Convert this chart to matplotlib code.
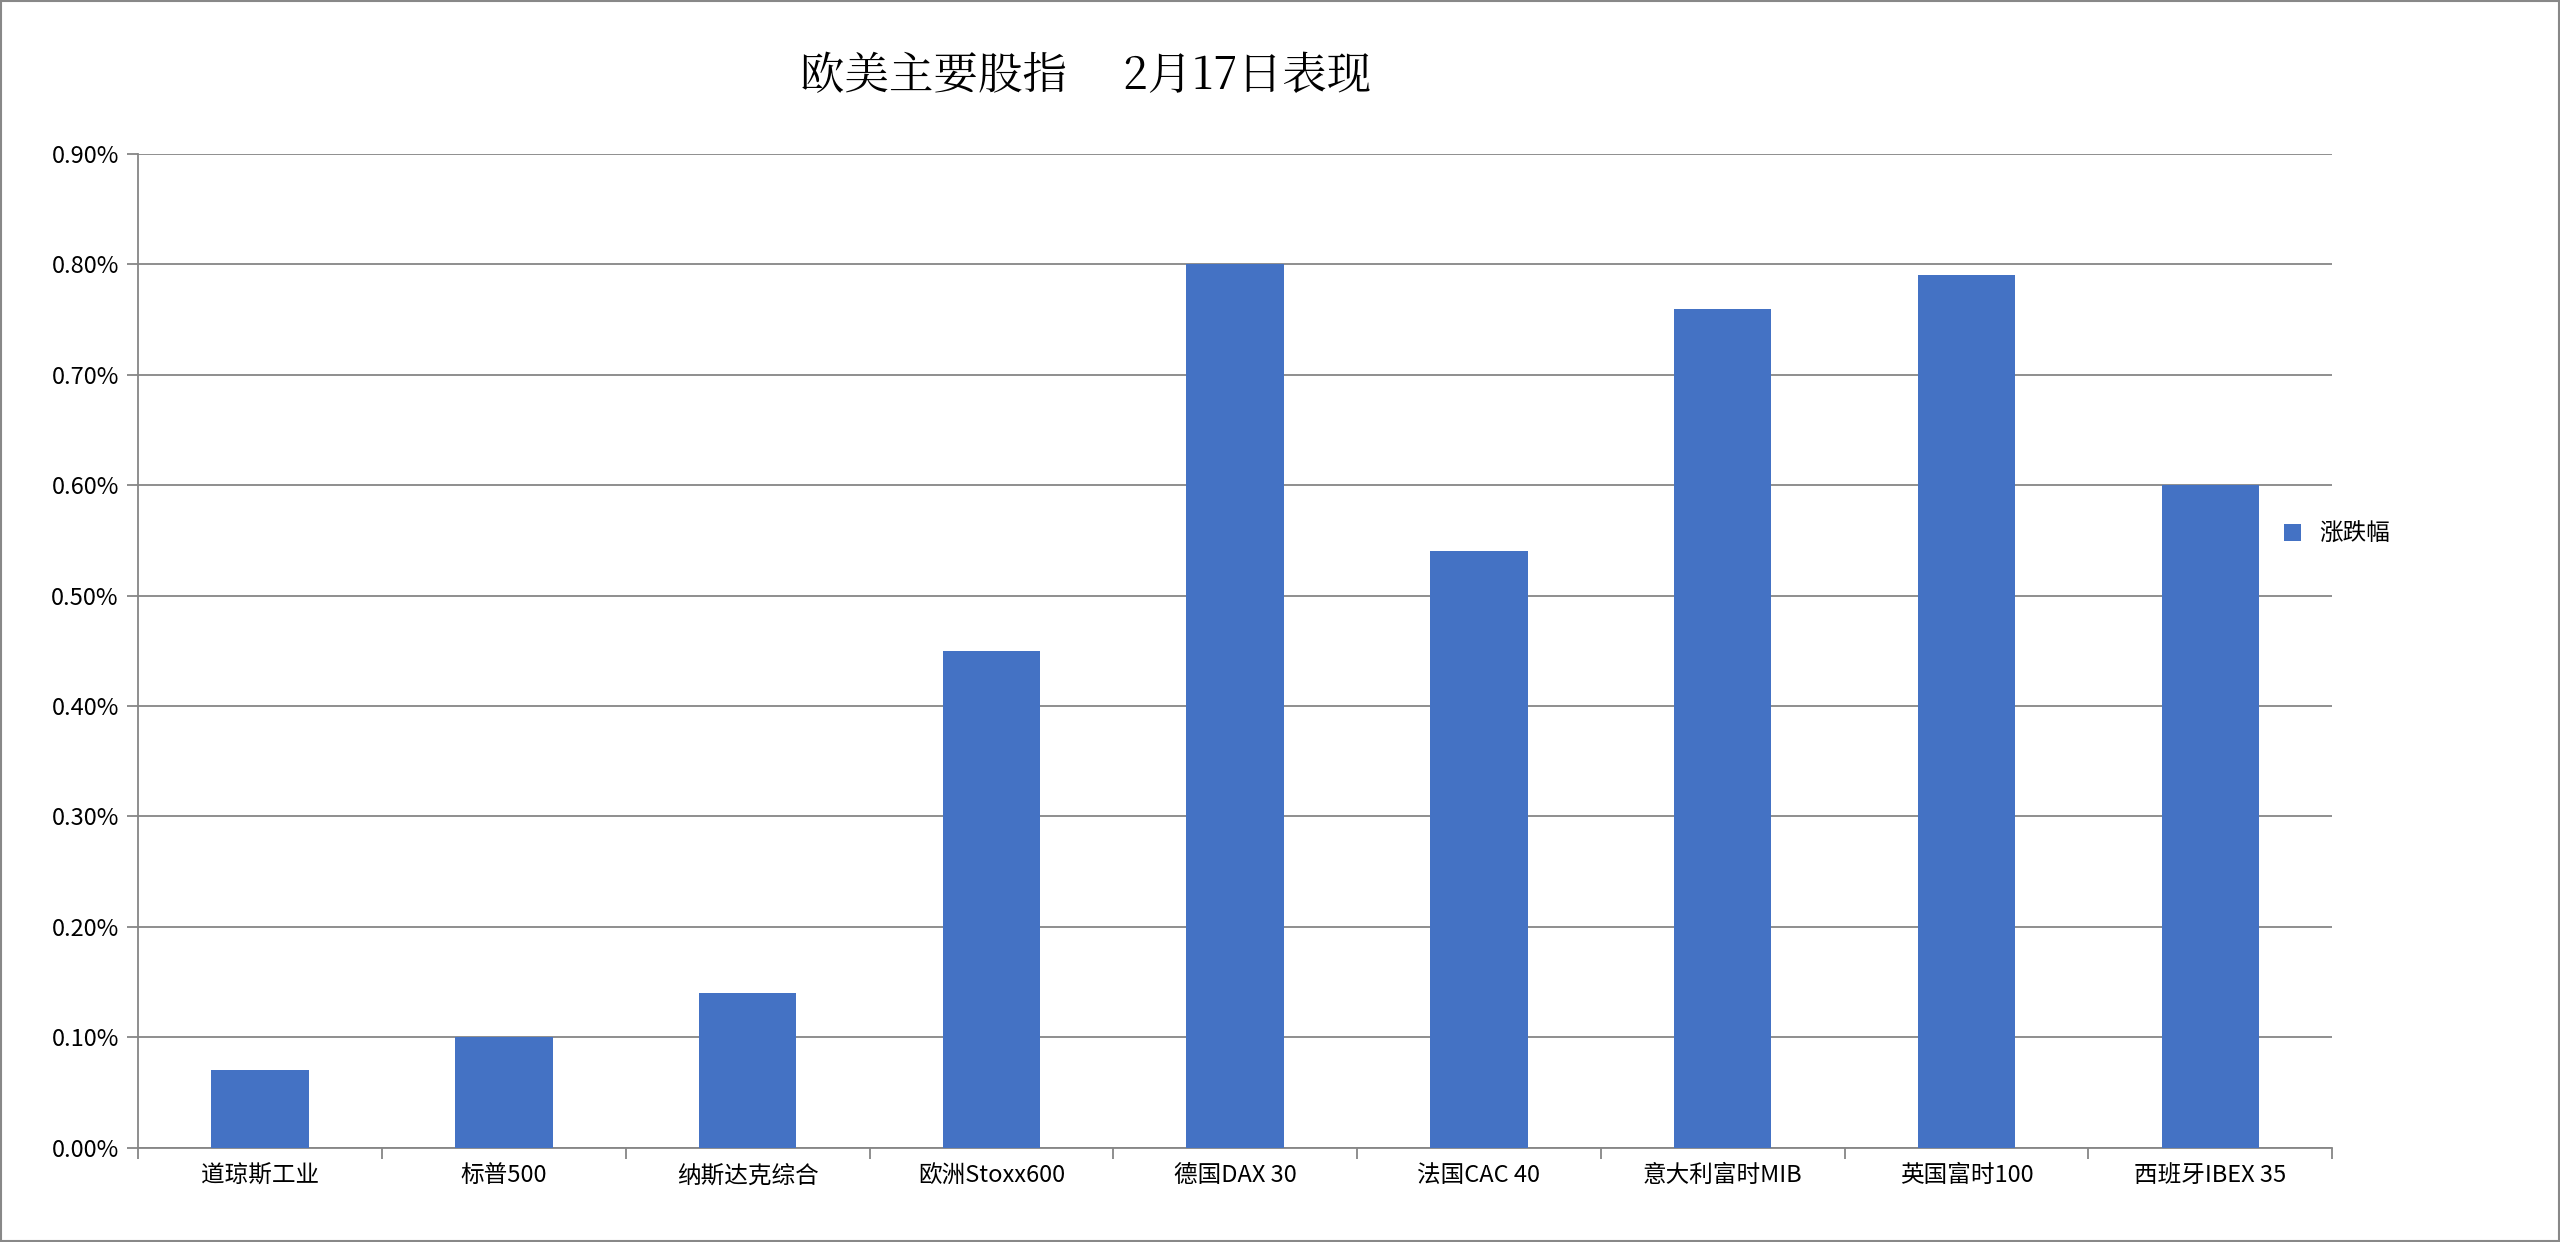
import matplotlib
matplotlib.use("Agg")
import matplotlib.pyplot as plt
from matplotlib.ticker import FixedLocator, NullFormatter
import numpy as np

plt.rcParams['font.family'] = ['Noto Sans CJK SC', 'DejaVu Sans']

categories = ["道琼斯工业", "标普500", "纳斯达克综合", "欧洲Stoxx600", "德国DAX 30",
              "法国CAC 40", "意大利富时MIB", "英国富时100", "西班牙IBEX 35"]
values = [0.07, 0.10, 0.14, 0.45, 0.80, 0.54, 0.76, 0.79, 0.60]
yticks = [0.0, 0.1, 0.2, 0.3, 0.4, 0.5, 0.6, 0.7, 0.8, 0.9]

fig = plt.figure(figsize=(25.6, 12.42), dpi=100)
fig.patches.append(plt.Rectangle((0.0005, 0.001), 0.999, 0.998, transform=fig.transFigure,
                                 fill=False, edgecolor='#888888', linewidth=1.5))
ax = fig.add_axes([0.054, 0.076, 0.857, 0.800])
x = np.arange(len(categories))
ax.bar(x, values, width=0.4, color='#4472C4', label='涨跌幅', zorder=3)
ax.set_xlim(-0.5, len(categories) - 0.5)
ax.set_ylim(0, 0.9)
ax.set_yticks(yticks)
ax.set_yticklabels([f"{v:.2f}%" for v in yticks], fontsize=17)
ax.grid(axis='y', color='#868686', linewidth=1.3, zorder=0)
ax.set_xticks(x)
ax.set_xticklabels(categories, fontsize=17)
ax.xaxis.set_minor_locator(FixedLocator(np.arange(-0.5, len(categories), 1.0)))
ax.xaxis.set_minor_formatter(NullFormatter())
ax.tick_params(axis='x', which='major', length=0, pad=12)
ax.tick_params(axis='x', which='minor', length=8, color='#868686', width=1.3)
ax.tick_params(axis='y', length=8, color='#868686', width=1.3, pad=6)
for s in ['top', 'right']:
    ax.spines[s].set_visible(False)
ax.spines['left'].set_color('#868686')
ax.spines['bottom'].set_color('#868686')
ax.spines['left'].set_linewidth(1.3)
ax.spines['bottom'].set_linewidth(1.3)
fig.text(0.424, 0.938, "欧美主要股指\u3000 2月17日表现", fontsize=32, ha='center', va='center',
         family=['Noto Serif CJK SC', 'Noto Sans CJK SC', 'DejaVu Sans'])
fig.legend(loc='center left', bbox_to_anchor=(0.884, 0.57), frameon=False, fontsize=17,
           handlelength=0.7, handleheight=0.7)
fig.savefig("out.png", dpi=100)
